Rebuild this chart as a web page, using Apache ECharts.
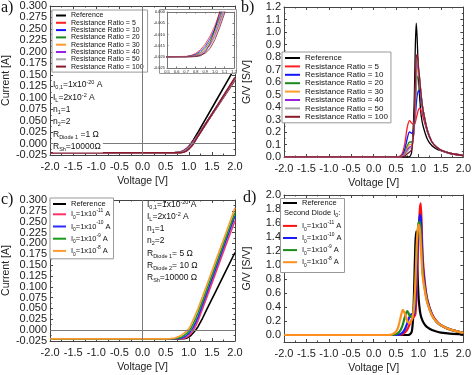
<!DOCTYPE html>
<html>
<head>
<meta charset="UTF-8" />
<script src="https://cdn.jsdelivr.net/npm/echarts@6/dist/echarts.min.js"></script>
</head>
<body style="margin:0">
<div id="main" style="width:474px;height:375px"></div>
<script>
const FONT = 'Liberation Sans';

// ---- panel a (I-V, resistance ratio) + inset, same data
const aV = [-2.0, 0.5, 0.7, 0.75, 0.8, 0.85, 0.9, 0.95, 1.0, 1.05, 1.1, 1.2, 1.4, 1.6, 1.8, 2.0];
const aRef = [-0.02, -0.02, -0.02, -0.02, -0.0199, -0.0195, -0.018, -0.014, -0.0075, 0.0, 0.008, 0.025, 0.06, 0.095, 0.13, 0.165];
const a5 = [-0.02, -0.02, -0.0198, -0.0194, -0.0185, -0.0168, -0.0143, -0.0108, -0.0062, -0.0005, 0.006, 0.019, 0.048, 0.078, 0.108, 0.138];
const a10 = [-0.02, -0.02, -0.0199, -0.0196, -0.0189, -0.0175, -0.0153, -0.012, -0.0075, -0.002, 0.0045, 0.0185, 0.048, 0.078, 0.109, 0.139];
const a20 = [-0.02, -0.02, -0.0199, -0.0197, -0.0192, -0.0181, -0.0162, -0.0131, -0.0087, -0.0032, 0.003, 0.018, 0.048, 0.079, 0.11, 0.14];
const a30 = [-0.02, -0.02, -0.02, -0.0198, -0.0194, -0.0185, -0.0168, -0.0139, -0.0096, -0.0041, 0.002, 0.0175, 0.048, 0.079, 0.11, 0.141];
const a40 = [-0.02, -0.02, -0.02, -0.0198, -0.0195, -0.0188, -0.0173, -0.0146, -0.0104, -0.0049, 0.0012, 0.017, 0.048, 0.08, 0.111, 0.142];
const a50 = [-0.02, -0.02, -0.02, -0.0199, -0.0196, -0.019, -0.0177, -0.0152, -0.0111, -0.0056, 0.0005, 0.0165, 0.048, 0.08, 0.112, 0.143];
const a100 = [-0.02, -0.02, -0.02, -0.0199, -0.0197, -0.0193, -0.0184, -0.0163, -0.0124, -0.007, -0.0008, 0.016, 0.048, 0.08, 0.112, 0.144];

// ---- panel b (G/V, resistance ratio)
const bV = [-2.0, 0.5, 0.6, 0.65, 0.7, 0.75, 0.8, 0.85, 0.9, 0.93, 0.95, 0.97, 1.0, 1.03, 1.06, 1.1, 1.2, 1.3, 1.4, 1.5, 1.7, 2.0];
const bRef = [0, 0, 0, 0, 0, 0, 0.002, 0.05, 0.4, 0.9, 1.07, 0.95, 0.65, 0.45, 0.33, 0.25, 0.14, 0.09, 0.065, 0.05, 0.028, 0.012];
const b5 = [0, 0, 0.01, 0.04, 0.12, 0.24, 0.29, 0.27, 0.26, 0.28, 0.31, 0.34, 0.38, 0.39, 0.37, 0.32, 0.2, 0.12, 0.08, 0.055, 0.03, 0.012];
const b10 = [0, 0, 0.005, 0.02, 0.07, 0.15, 0.2, 0.19, 0.24, 0.33, 0.42, 0.49, 0.53, 0.51, 0.45, 0.36, 0.2, 0.12, 0.08, 0.055, 0.03, 0.012];
const b20 = [0, 0, 0.003, 0.012, 0.04, 0.09, 0.12, 0.12, 0.22, 0.4, 0.55, 0.63, 0.65, 0.58, 0.48, 0.38, 0.21, 0.12, 0.08, 0.055, 0.03, 0.012];
const b30 = [0, 0, 0.002, 0.009, 0.03, 0.07, 0.1, 0.1, 0.22, 0.45, 0.62, 0.7, 0.68, 0.6, 0.49, 0.38, 0.21, 0.12, 0.08, 0.055, 0.03, 0.012];
const b40 = [0, 0, 0.001, 0.007, 0.022, 0.055, 0.08, 0.085, 0.22, 0.5, 0.68, 0.75, 0.7, 0.6, 0.49, 0.38, 0.21, 0.12, 0.08, 0.055, 0.03, 0.012];
const b50 = [0, 0, 0.001, 0.005, 0.017, 0.043, 0.065, 0.075, 0.22, 0.53, 0.72, 0.78, 0.71, 0.61, 0.49, 0.38, 0.21, 0.12, 0.08, 0.055, 0.03, 0.012];
const b100 = [0, 0, 0, 0.003, 0.01, 0.025, 0.04, 0.06, 0.25, 0.6, 0.8, 0.82, 0.72, 0.61, 0.49, 0.38, 0.21, 0.12, 0.08, 0.055, 0.03, 0.012];

// ---- panel c (I-V, second diode I0)
const cV = [-2.0, 0.5, 0.6, 0.7, 0.8, 0.85, 0.9, 0.95, 1.0, 1.05, 1.1, 1.15, 1.2, 1.3, 1.4, 1.6, 1.8, 2.0];
const cRef = [-0.02, -0.02, -0.02, -0.02, -0.02, -0.0199, -0.0196, -0.0185, -0.016, -0.0118, -0.006, 0.0005, 0.008, 0.028, 0.05, 0.093, 0.136, 0.179];
const c11 = [-0.02, -0.02, -0.02, -0.02, -0.0198, -0.0195, -0.0185, -0.0165, -0.013, -0.0075, 0.0, 0.01, 0.022, 0.05, 0.079, 0.137, 0.195, 0.252];
const c10 = [-0.02, -0.02, -0.02, -0.0199, -0.019, -0.018, -0.016, -0.0125, -0.008, -0.0015, 0.007, 0.018, 0.03, 0.059, 0.088, 0.146, 0.205, 0.263];
const c9 = [-0.02, -0.02, -0.0199, -0.0195, -0.0175, -0.0155, -0.012, -0.008, -0.003, 0.005, 0.015, 0.027, 0.04, 0.068, 0.097, 0.155, 0.213, 0.271];
const c8 = [-0.02, -0.02, -0.0195, -0.018, -0.014, -0.011, -0.007, -0.002, 0.003, 0.013, 0.025, 0.037, 0.05, 0.078, 0.107, 0.165, 0.223, 0.282];

// ---- panel d (G/V, second diode I0)
const dV = [-2.0, 0.3, 0.4, 0.5, 0.55, 0.6, 0.65, 0.7, 0.75, 0.8, 0.85, 0.88, 0.9, 0.93, 0.95, 0.97, 1.0, 1.03, 1.05, 1.08, 1.1, 1.15, 1.2, 1.3, 1.4, 1.5, 1.7, 2.0];
const dRef = [0, 0, 0, 0, 0, 0, 0, 0, 0, 0.005, 0.05, 0.25, 0.6, 1.3, 1.48, 1.05, 0.55, 0.35, 0.28, 0.22, 0.19, 0.14, 0.11, 0.07, 0.05, 0.035, 0.02, 0.01];
const d11 = [0, 0, 0, 0, 0, 0.005, 0.015, 0.04, 0.08, 0.15, 0.22, 0.25, 0.26, 0.3, 0.5, 0.85, 1.4, 1.8, 1.88, 1.35, 1.05, 0.7, 0.5, 0.3, 0.2, 0.14, 0.08, 0.03];
const d10 = [0, 0, 0, 0, 0.005, 0.015, 0.04, 0.09, 0.17, 0.26, 0.3, 0.28, 0.3, 0.45, 0.75, 1.1, 1.5, 1.72, 1.68, 1.2, 0.95, 0.66, 0.48, 0.29, 0.19, 0.14, 0.08, 0.03];
const d9 = [0, 0, 0, 0.01, 0.03, 0.07, 0.15, 0.27, 0.34, 0.28, 0.25, 0.3, 0.38, 0.7, 1.05, 1.35, 1.6, 1.62, 1.45, 1.05, 0.85, 0.62, 0.46, 0.28, 0.19, 0.14, 0.08, 0.03];
const d8 = [0, 0, 0.005, 0.05, 0.12, 0.25, 0.36, 0.3, 0.2, 0.17, 0.22, 0.3, 0.4, 0.75, 1.1, 1.4, 1.58, 1.5, 1.3, 0.95, 0.8, 0.6, 0.45, 0.28, 0.19, 0.14, 0.08, 0.03];

const ratios = ['5', '10', '20', '30', '40', '50', '100'];
const ratioColors = ['#ff2020', '#1414ff', '#1a8a1a', '#ff9a2e', '#9a20e0', '#a8a8a8', '#8b1a2a'];
const i0Labels = ['-11', '-10', '-9', '-8'];

const main = document.getElementById('main');
const chart = echarts.init(main);

function axisPair(dim, grid, min, max, step, digits, o) {
  const tick = o.tick || 3;
  const col = o.color || '#444';
  const base = {
    type: 'value', gridIndex: grid, min: min, max: max, interval: step,
    splitLine: { show: false },
    axisLine: { show: true, onZero: false, lineStyle: { color: col, width: 1 } },
    axisTick: { show: true, inside: true, length: tick, lineStyle: { color: col } },
    minorTick: { show: o.minor !== false, splitNumber: 2, length: tick / 2, lineStyle: { color: col } },
    z: o.z || 0
  };
  const first = Object.assign({}, base, {
    position: dim === 'x' ? 'bottom' : 'left',
    axisLabel: {
      fontFamily: FONT, fontSize: o.font || 11, color: '#222', margin: o.margin,
      formatter: v => v.toFixed(digits)
    },
    name: o.name, nameLocation: 'middle', nameGap: o.nameGap,
    nameTextStyle: { fontFamily: FONT, fontSize: 10.5, color: '#222' }
  });
  if (o.labels) {
    first.axisLabel.customValues = o.labels;
    first.axisTick = Object.assign({}, base.axisTick, { customValues: o.labels });
  }
  const second = Object.assign({}, base, {
    position: dim === 'x' ? 'top' : 'right', axisLabel: { show: false }
  });
  if (o.labels) second.axisTick = first.axisTick;
  return [first, second];
}

function line(id, grid, xs, ys, color, width, z, smooth) {
  return {
    type: 'line', name: id, xAxisIndex: grid * 2, yAxisIndex: grid * 2,
    data: xs.map((x, i) => [x, ys[i]]),
    symbol: 'none', smooth: smooth || false,
    lineStyle: { color: color, width: width }, itemStyle: { color: color },
    z: z || 2, animation: false
  };
}

const zeroLines = {
  silent: true, symbol: 'none', label: { show: false },
  lineStyle: { color: '#7a7a7a', type: 'solid', width: 1 },
  data: [{ xAxis: 0 }, { yAxis: 0 }]
};

const xAxes = [], yAxes = [];
function addAxes(x, y) { xAxes.push(...x); yAxes.push(...y); }

const vName = { name: 'Voltage [V]', nameGap: 21, margin: 6 };
addAxes(axisPair('x', 0, -2, 2, 0.5, 1, vName),
  axisPair('y', 0, -0.025, 0.3, 0.025, 3, { name: 'Current [A]', nameGap: 38, margin: 3 }));
addAxes(axisPair('x', 1, 0.5, 1.2, 0.1, 1, { font: 4, margin: 2, tick: 1.5, minor: false, color: '#777', z: 6 }),
  axisPair('y', 1, -0.025, 0, 0.005, 3, { font: 4, margin: 2, tick: 1.5, minor: false, color: '#777', z: 6 }));
addAxes(axisPair('x', 2, -2, 2, 0.5, 1, vName),
  axisPair('y', 2, 0, 1.2, 0.1, 1, { name: 'G/V [S/V]', nameGap: 31, margin: 3 }));
addAxes(axisPair('x', 3, -2, 2, 0.5, 1, vName),
  axisPair('y', 3, -0.025, 0.3, 0.025, 3, { name: 'Current [A]', nameGap: 38, margin: 3 }));
addAxes(axisPair('x', 4, -2, 2, 0.5, 1, vName),
  axisPair('y', 4, -0.1, 2.0, 0.1, 1, {
    name: 'G/V [S/V]', nameGap: 31, margin: 3, minor: false,
    labels: [0, 0.2, 0.4, 0.6, 0.8, 1.0, 1.2, 1.4, 1.6, 1.8, 2.0]
  }));

const aData = [a5, a10, a20, a30, a40, a50, a100];
const bData = [b5, b10, b20, b30, b40, b50, b100];
const cData = [c11, c10, c9, c8];
const dData = [d11, d10, d9, d8];
const cColors = ['#ff3366', '#2a2aff', '#1a9a1a', '#ff9a2e'];
const dColors = ['#ff1010', '#1a1aff', '#1a8a1a', '#ff9020'];

const series = [];
const aRefS = line('a:ref', 0, aV, aRef, '#000', 1.6);
aRefS.markLine = zeroLines;
series.push(aRefS);
aData.forEach((d, i) => series.push(line('a:' + ratios[i], 0, aV, d, ratioColors[i], 1.6)));
series.push(line('i:ref', 1, aV, aRef, '#000', 0.8, 7));
aData.forEach((d, i) => series.push(line('i:' + ratios[i], 1, aV, d, ratioColors[i], 0.8, 7)));
series.push(line('b:ref', 2, bV, bRef, '#000', 1.3, 2, 0.3));
bData.forEach((d, i) => series.push(line('b:' + ratios[i], 2, bV, d, ratioColors[i], 1.3, 2, 0.3)));
const cRefS = line('c:ref', 3, cV, cRef, '#000', 1.6);
cRefS.markLine = zeroLines;
series.push(cRefS);
cData.forEach((d, i) => series.push(line('c:' + i0Labels[i], 3, cV, d, cColors[i], 1.6)));
series.push(line('d:ref', 4, dV, dRef, '#000', 2.2, 2, 0.3));
dData.forEach((d, i) => series.push(line('d:' + i0Labels[i], 4, dV, d, dColors[i], 2.2, 2, 0.3)));

function legendText(name) {
  const key = name.split(':')[1];
  if (key === 'ref') return '{m|Reference}';
  if (key.charAt(0) === '-') return '{m|I}{s|0}{m|=1x10}{p|' + key + '}{m| A}';
  return '{m|Resistance Ratio = ' + key + '}';
}
function legendRich(fs, lh) {
  return {
    m: { fontFamily: FONT, fontSize: fs, color: '#111', lineHeight: lh },
    s: { fontFamily: FONT, fontSize: fs * 0.65, color: '#111', lineHeight: fs * 0.65, verticalAlign: 'bottom' },
    p: { fontFamily: FONT, fontSize: fs * 0.65, color: '#111', lineHeight: fs * 0.65, verticalAlign: 'top' }
  };
}
function legend(left, top, names, o) {
  return {
    orient: 'vertical', left: left, top: top, data: names, icon: 'rect',
    itemWidth: o.iw, itemHeight: 2, itemGap: o.gap, padding: o.pad,
    backgroundColor: o.box ? '#fff' : 'transparent',
    borderColor: '#999', borderWidth: o.box ? 1 : 0,
    formatter: legendText, selectedMode: false,
    textStyle: { rich: legendRich(o.fs, o.lh) }
  };
}

const legends = [
  legend(52, 10, ['a:ref'].concat(ratios.map(r => 'a:' + r)), { iw: 10, gap: 0.3, pad: [2, 4, 2, 4], fs: 7, lh: 7.8, box: true }),
  legend(282, 52, ['b:ref'].concat(ratios.map(r => 'b:' + r)), { iw: 15, gap: 0.4, pad: [2, 3, 2, 3], fs: 8, lh: 8.8, box: true }),
  legend(50, 198, ['c:ref'].concat(i0Labels.map(r => 'c:' + r)), { iw: 13, gap: 0.4, pad: [2, 3, 2, 3], fs: 7.5, lh: 11.8, box: true }),
  legend(280, 198, ['d:ref'], { iw: 14, gap: 0, pad: [1, 3, 0, 3], fs: 7.5, lh: 10, box: false }),
  legend(280, 220, i0Labels.map(r => 'd:' + r), { iw: 14, gap: 0.3, pad: [0, 3, 2, 3], fs: 7.5, lh: 11.8, box: false })
];

const noteRich = {
  m: { fontFamily: FONT, fontSize: 8.5, fill: '#111', lineHeight: 11 },
  s: { fontFamily: FONT, fontSize: 5.5, fill: '#111', lineHeight: 5.5, verticalAlign: 'bottom' },
  p: { fontFamily: FONT, fontSize: 5.5, fill: '#111', lineHeight: 5.5, verticalAlign: 'top' }
};
const notesA = [
  '{m|I}{s|0,1}{m|=1x10}{p|-20}{m| A}', '{m|I}{s|L}{m|=2x10}{p|-2}{m| A}', '{m|n}{s|1}{m|=1}',
  '{m|n}{s|2}{m|=2}', '{m|R}{s|Diode 1}{m| =1 Ω}', '{m|R}{s|Sh}{m|=10000Ω}'
];
const notesAY = [85, 98, 110, 122, 135, 147];
const notesC = [
  '{m|I}{s|0,1}{m|=1x10}{p|-20}{m| A}', '{m|I}{s|L}{m|=2x10}{p|-2}{m| A}', '{m|n}{s|1}{m|=1}',
  '{m|n}{s|2}{m|=2}', '{m|R}{s|Diode 1}{m|= 5 Ω}', '{m|R}{s|Diode 2}{m|= 10 Ω}', '{m|R}{s|Sh}{m|=10000 Ω}'
];
const notesCY = [205, 217, 229, 241, 254, 266, 278];

const graphics = [];
notesA.forEach((t, i) => graphics.push({
  type: 'text', x: 53, y: notesAY[i], z: 10,
  style: { text: t, rich: noteRich, verticalAlign: 'middle', backgroundColor: i === 5 ? '#fff' : null, padding: [0, 2, 0, 0] }
}));
notesC.forEach((t, i) => graphics.push({
  type: 'text', x: 147, y: notesCY[i], z: 10,
  style: { text: t, rich: noteRich, verticalAlign: 'middle' }
}));
[['a)', 1, 8], ['b)', 241, 8], ['c)', 1, 200], ['d)', 243, 198]].forEach(p => graphics.push({
  type: 'text', x: p[1], y: p[2], z: 10,
  style: { text: p[0], fontFamily: 'Liberation Serif', fontSize: 16, fill: '#111', verticalAlign: 'middle' }
}));
// inset frame and legend box of panel d
graphics.push({ type: 'rect', shape: { x: 159.5, y: 9.5, width: 77, height: 64 }, z: 5, style: { fill: '#fff', stroke: '#999', lineWidth: 1 } });
graphics.push({ type: 'rect', shape: { x: 280.5, y: 198.5, width: 64, height: 74 }, z: 3, style: { fill: '#fff', stroke: '#999', lineWidth: 1 } });
graphics.push({
  type: 'text', x: 284, y: 213, z: 10,
  style: { text: '{m|Second Diode I}{s|0}{m|:}', rich: { m: { fontFamily: FONT, fontSize: 7.5, fill: '#111', lineHeight: 10 }, s: noteRich.s }, verticalAlign: 'middle' }
});

chart.setOption({
  animation: false,
  grid: [
    { left: 50, top: 6, width: 185, height: 149 },
    { left: 167, top: 12, width: 67, height: 56 },
    { left: 284, top: 7, width: 182, height: 150 },
    { left: 50, top: 200, width: 185, height: 141 },
    { left: 284, top: 195, width: 182, height: 149 }
  ],
  xAxis: xAxes,
  yAxis: yAxes,
  legend: legends,
  graphic: { elements: graphics },
  series: series
});
</script>
</body>
</html>
